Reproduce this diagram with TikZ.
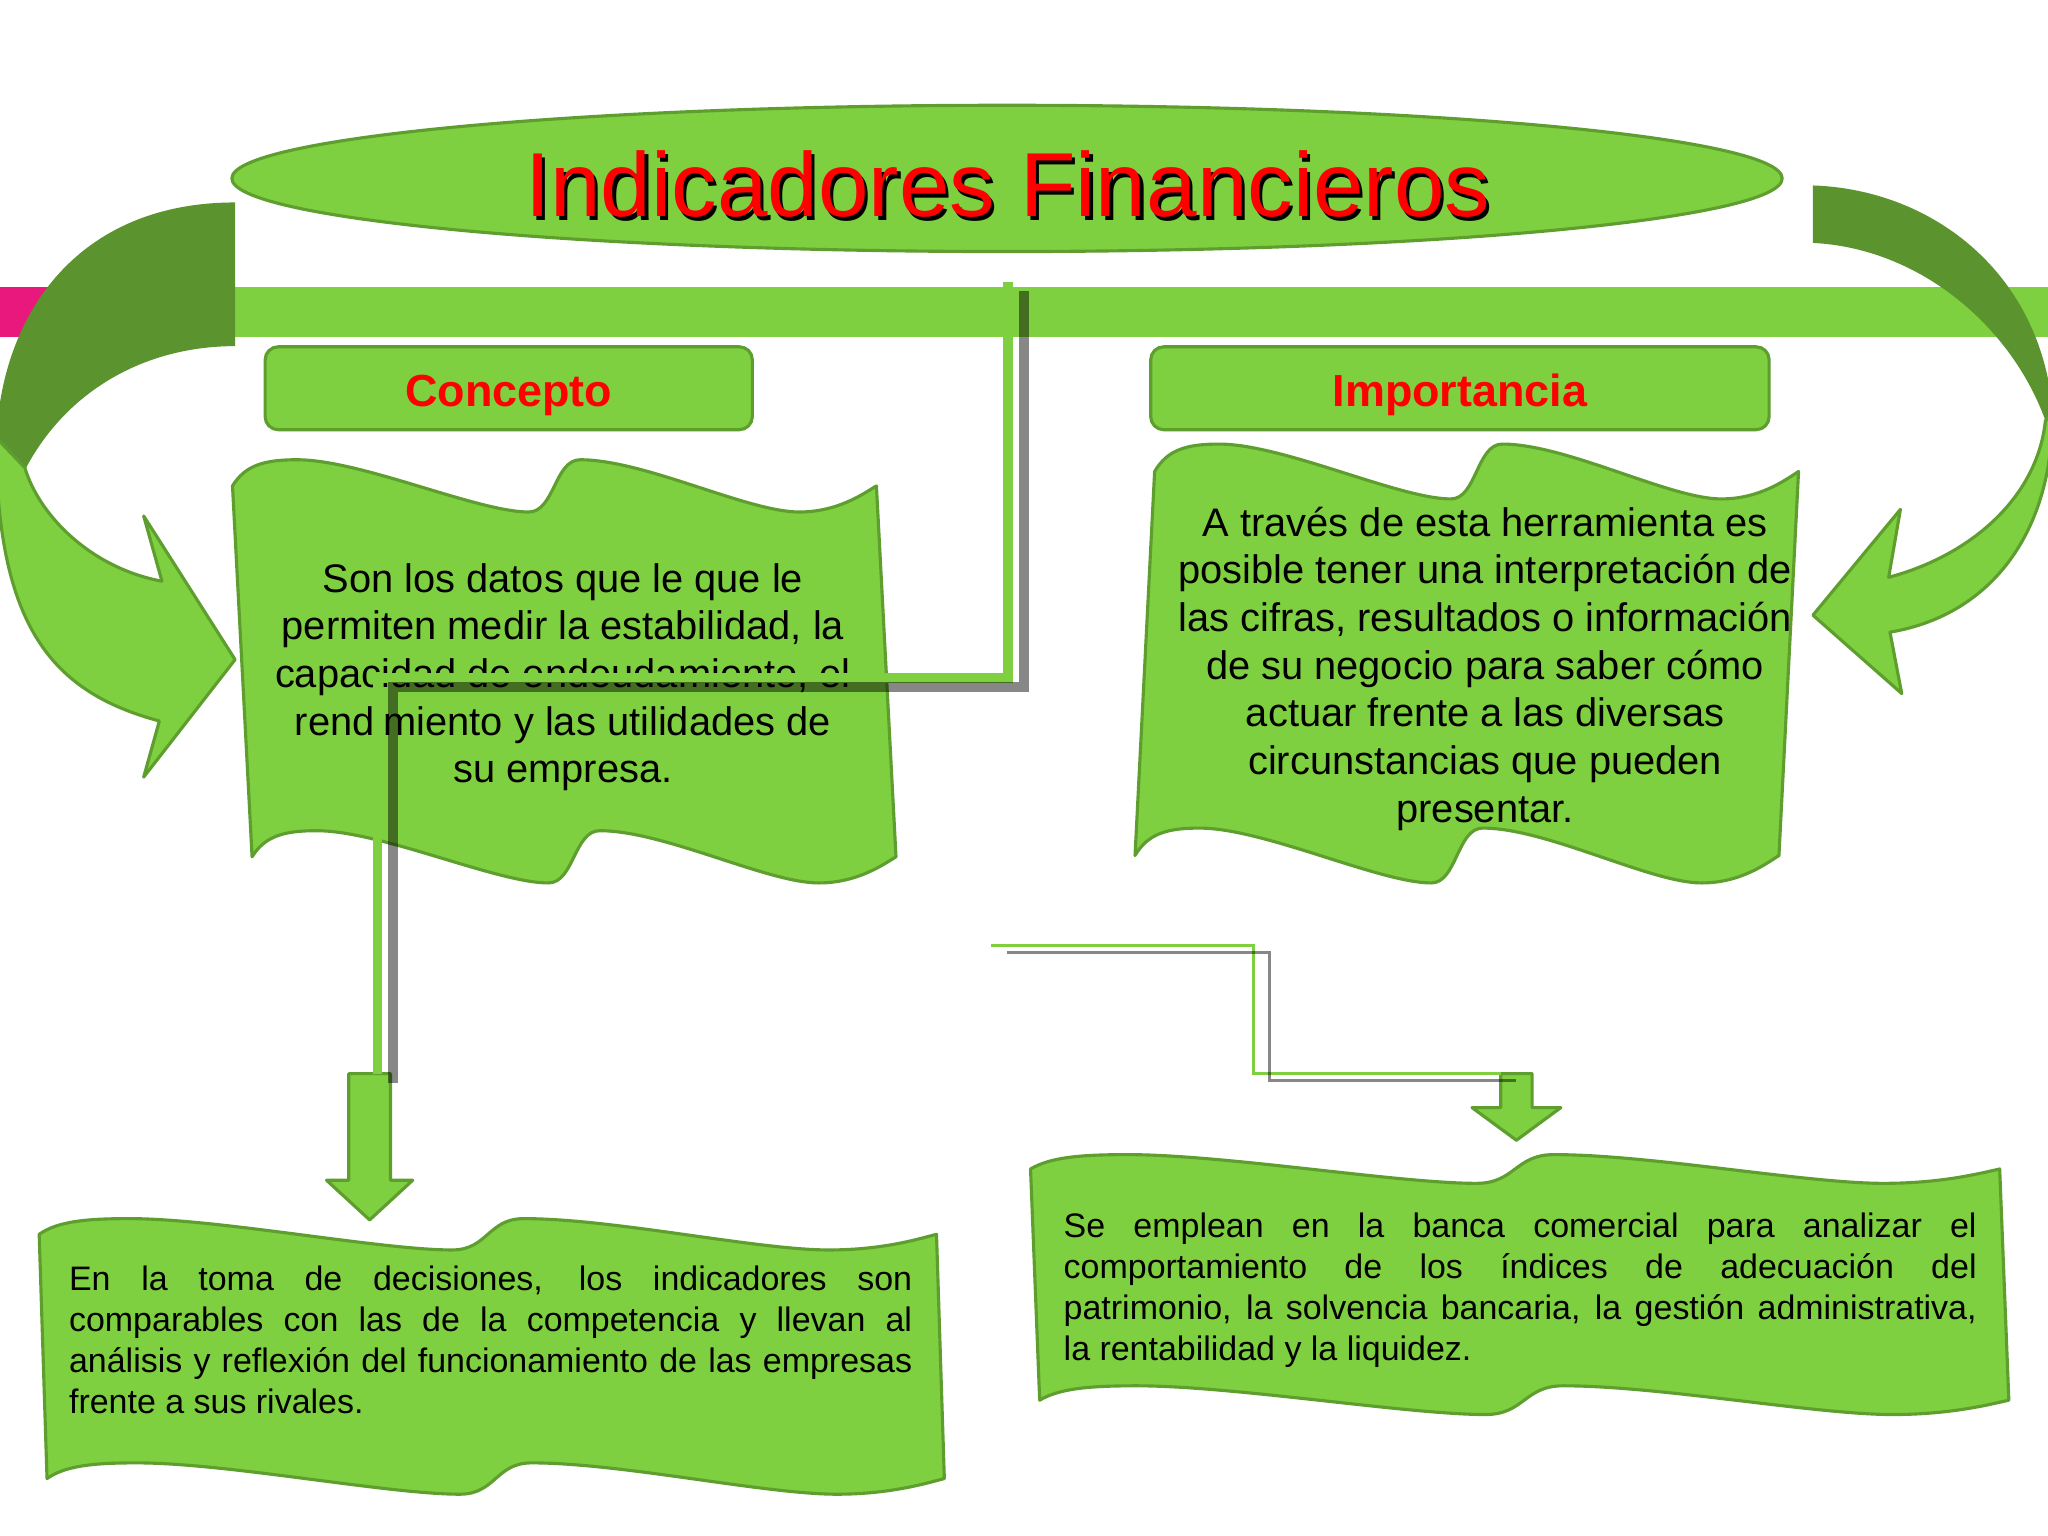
\documentclass[tikz,border=0pt]{standalone}
\usepackage{fontspec}
\setmainfont{Liberation Sans}
\usetikzlibrary{shapes.geometric}
\definecolor{lg}{RGB}{127,208,64}
\definecolor{lgdark}{RGB}{94,158,46}
\definecolor{dg}{RGB}{91,147,46}
\definecolor{pinkbar}{RGB}{232,24,124}
\tikzset{
  outl/.style={draw=lgdark, line width=1.2pt, line join=round},
  wavebox/.style={fill=lg, outl},
  headbox/.style={rectangle, rounded corners=5pt, fill=lg, outl, inner sep=0pt},
  headtext/.style={font=\fontsize{17.2pt}{20pt}\selectfont\bfseries, text=red, inner sep=0pt},
  titlefont/.style={font=\fontsize{34.8pt}{40pt}\selectfont, inner sep=0pt},
  bodybig/.style={font=\fontsize{15.25pt}{18.25pt}\selectfont, align=center, inner sep=0pt},
  bodysmall/.style={font=\fontsize{13pt}{15.65pt}\selectfont, inner sep=0pt},
  blockarrow/.style={fill=lg, outl},
  connthick/.style={draw=lg, line width=3.8pt, line cap=butt, line join=miter},
  connthin/.style={draw=lg, line width=1.2pt, line cap=butt, line join=miter},
  shadowthick/.style={draw=black, draw opacity=0.47, line width=3.8pt, line cap=butt, line join=miter},
  shadowthin/.style={draw=black, draw opacity=0.47, line width=1.2pt, line cap=butt, line join=miter},
}
% #2=x0 #3=y0 #4=W #5=H #6=dx #7=A
\newcommand{\mywave}[7][]{%
  \filldraw[wavebox,#1]
  (#2,#3)
  .. controls ({#2+0.02*#4},{#3-0.8*#7}) and ({#2+0.05*#4},{#3-#7}) .. ({#2+0.10*#4},{#3-#7})
  .. controls ({#2+0.20*#4},{#3-#7}) and ({#2+0.38*#4},{#3+#7}) .. ({#2+0.46*#4},{#3+#7})
  .. controls ({#2+0.50*#4},{#3+#7}) and ({#2+0.50*#4},{#3-#7}) .. ({#2+0.54*#4},{#3-#7})
  .. controls ({#2+0.64*#4},{#3-#7}) and ({#2+0.80*#4},{#3+#7}) .. ({#2+0.88*#4},{#3+#7})
  .. controls ({#2+0.94*#4},{#3+#7}) and ({#2+0.98*#4},{#3+0.3*#7}) .. ({#2+#4},{#3})
  -- ({#2+#4+(#6)},{#3+#5})
  .. controls ({#2+(#6)+0.98*#4},{#3+#5+0.3*#7}) and ({#2+(#6)+0.94*#4},{#3+#5+#7}) .. ({#2+(#6)+0.88*#4},{#3+#5+#7})
  .. controls ({#2+(#6)+0.80*#4},{#3+#5+#7}) and ({#2+(#6)+0.64*#4},{#3+#5-#7}) .. ({#2+(#6)+0.54*#4},{#3+#5-#7})
  .. controls ({#2+(#6)+0.50*#4},{#3+#5-#7}) and ({#2+(#6)+0.50*#4},{#3+#5+#7}) .. ({#2+(#6)+0.46*#4},{#3+#5+#7})
  .. controls ({#2+(#6)+0.38*#4},{#3+#5+#7}) and ({#2+(#6)+0.20*#4},{#3+#5-#7}) .. ({#2+(#6)+0.10*#4},{#3+#5-#7})
  .. controls ({#2+(#6)+0.05*#4},{#3+#5-#7}) and ({#2+(#6)+0.02*#4},{#3+#5-0.8*#7}) .. ({#2+(#6)},{#3+#5})
  -- cycle;
}
\begin{document}
\begin{tikzpicture}[x=0.5pt, y=-0.5pt]
\useasboundingbox (0,0) rectangle (1568,1176);
\fill[white] (0,0) rectangle (1568,1176);
\clip (0,0) rectangle (1568,1176);

% horizontal band
\fill[pinkbar] (0,219.5) rectangle (180,258);
\fill[lg] (180,219.5) rectangle (1568,258);

% left curved arrow
\fill[dg] (180,155) .. controls (60,155) and (0,240) .. (-3,340) -- (19,360) .. controls (50,300) and (110,265) .. (180,265) -- cycle;
\filldraw[fill=lg, outl] (-3,335) -- (19,358) .. controls (30,395) and (70,435) .. (124,445) -- (110,395) -- (180,505) -- (110,595) -- (122,552) .. controls (40,530) and (-3,480) .. (-3,335) -- cycle;

% right curved arrow
\fill[dg] (1388,142) .. controls (1480,145) and (1565,210) .. (1572,320) -- (1566,322) .. controls (1540,250) and (1470,190) .. (1388,186) -- cycle;
\filldraw[fill=lg, outl] (1571,318) .. controls (1572,400) and (1530,470) .. (1447,484) -- (1456,531) -- (1388,471) -- (1455,390) -- (1446,442) .. controls (1510,425) and (1560,380) .. (1566,322) -- cycle;

% title
\node[ellipse, fill=lg, outl, minimum width=593.5pt, minimum height=56pt, inner sep=0pt] (titleell) at (771,136.6) {};
\node[titlefont, text=black, anchor=base] (titleshadow) at (774,169) {Indicadores Financieros};
\node[titlefont, text=red, anchor=base] (titletext) at (771.5,166) {Indicadores Financieros};

% headings
\node[headbox, minimum width=186.5pt, minimum height=31.75pt] (concepto) at (389.5,297.25) {};
\node[headtext, anchor=base] (conceptotext) at (389.5,311.5) {Concepto};
\node[headbox, minimum width=236.75pt, minimum height=31.75pt] (importancia) at (1117.75,297.25) {};
\node[headtext, anchor=base] (importanciatext) at (1117.75,311.5) {Importancia};

% wave boxes
\mywave{178}{372}{493}{284}{15}{20}
\mywave{884}{361}{493}{294}{-15}{21}
\mywave{30}{945}{687}{187}{6}{12}
\mywave{789}{895}{742}{177}{7}{11}

\node[bodybig, anchor=north] (conceptbody) at (431,422.5) {\rule{0pt}{1em}Son los datos que le que le\\permiten medir la estabilidad, la\\capacidad de endeudamiento, el\\rendimiento y las utilidades de\\su empresa.};
\node[bodybig, anchor=north] (importbody) at (1137,379.5) {\rule{0pt}{1em}A través de esta herramienta es\\posible tener una interpretación de\\las cifras, resultados o información\\de su negocio para saber cómo\\actuar frente a las diversas\\circunstancias que pueden\\presentar.};
\node[bodysmall, anchor=north west] (usobody) at (52.5,962) {\parbox[t]{322.75pt}{\tolerance=10000\hbadness=10000\hyphenpenalty=10000\rule{0pt}{1em}En la toma de decisiones, los indicadores son\linebreak comparables con las de la competencia y llevan al\linebreak análisis y reflexión del funcionamiento de las empresas\linebreak frente a sus rivales.}};
\node[bodysmall, anchor=north west] (bancabody) at (814,921) {\parbox[t]{349.5pt}{\tolerance=10000\hbadness=10000\hyphenpenalty=10000\rule{0pt}{1em}Se emplean en la banca comercial para analizar el\linebreak comportamiento de los índices de adecuación del\linebreak patrimonio, la solvencia bancaria, la gestión administrativa,\linebreak la rentabilidad y la liquidez.}};

% block arrows
\filldraw[blockarrow] (267,822) -- (299,822) -- (299,903.6) -- (316,903.6) -- (283,934) -- (250,903.6) -- (267,903.6) -- cycle;
\filldraw[blockarrow] (1149,822) -- (1173,822) -- (1173,848) -- (1195,848) -- (1161,873) -- (1127,848) -- (1149,848) -- cycle;

% connector coordinates
\coordinate (c1start) at (772,216);
\coordinate (c1turnA) at (772,518.8);
\coordinate (c1turnB) at (289,518.8);
\coordinate (arrowAtop) at (289,822);
\coordinate (c2start) at (759,723.6);
\coordinate (c2turnA) at (960,723.6);
\coordinate (c2turnB) at (960,822);
\coordinate (arrowBtop) at (1149,822);

% connectors
\draw[connthick] (c1start) -- (c1turnA) -- (c1turnB) -- (arrowAtop);
\draw[shadowthick, transform canvas={shift={(6pt,-3.5pt)}}] (c1start) -- (c1turnA) -- (c1turnB) -- (arrowAtop);
\draw[connthin] (c2start) -- (c2turnA) -- (c2turnB) -- (arrowBtop);
\draw[shadowthin, transform canvas={shift={(6pt,-2.75pt)}}] (c2start) -- (c2turnA) -- (c2turnB) -- (arrowBtop);
\end{tikzpicture}
\end{document}
